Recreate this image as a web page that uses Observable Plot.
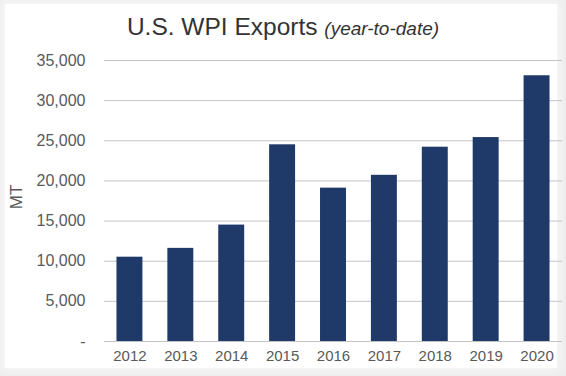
<!DOCTYPE html>
<html>
<head>
<meta charset="utf-8">
<script src="https://cdn.jsdelivr.net/npm/d3@7"></script>
<script src="https://cdn.jsdelivr.net/npm/@observablehq/plot@0.6"></script>
<style>
  html, body { margin: 0; padding: 0; background: #ececec; }
  #card {
    position: absolute; left: 5px; top: 4px; width: 552px; height: 364px;
    background: #ffffff;
    box-shadow: 0 0 8px 4px #f6f6f6;
  }
  #title {
    position: absolute; left: 0; top: 13px; width: 566px; text-align: center;
    font-family: "Liberation Sans", Arial, sans-serif; font-size: 24.5px; color: #333333;
    white-space: nowrap;
  }
  #title i { font-size: 19px; }
  #chart { position: absolute; left: 0; top: 50px; }
  #ylab {
    position: absolute; left: 17px; top: 197px;
    transform: translate(-50%, -50%) rotate(-90deg);
    font-family: "Liberation Sans", Arial, sans-serif; font-size: 17px; color: #595959;
  }
</style>
</head>
<body>
<div id="card"></div>
<div id="title">U.S. WPI Exports <i>(year-to-date)</i></div>
<div id="ylab">MT</div>
<div id="chart"></div>
<script>
const years = ["2012", "2013", "2014", "2015", "2016", "2017", "2018", "2019", "2020"];
const exportsMT = [10500, 11600, 14500, 24500, 19100, 20700, 24200, 25400, 33100];
const yTicks = [0, 5000, 10000, 15000, 20000, 25000, 30000, 35000];

const data = years.map((y, i) => ({year: y, value: exportsMT[i]}));
const fmt = d => d === 0 ? "-" : d3.format(",")(d);

const chart = Plot.plot({
  width: 566,
  height: 326,
  marginTop: 10,
  marginBottom: 35,
  marginLeft: 104,
  marginRight: 4,
  style: {background: "transparent", fontFamily: "'Liberation Sans', Arial, sans-serif", color: "#595959"},
  x: {domain: years, paddingInner: 0.49, paddingOuter: 0.245, round: false, label: null},
  y: {domain: [0, 35000], label: null},
  marks: [
    Plot.gridY(yTicks, {stroke: "#c4c4c4", strokeOpacity: 1, strokeWidth: 1}),
    Plot.axisY(yTicks, {tickSize: 0, tickPadding: 19, tickFormat: fmt, label: null, fill: "#595959", fontSize: 16}),
    Plot.axisX({tickSize: 0, tickPadding: 9, label: null, fill: "#595959", fontSize: 15}),
    Plot.barY(data, {x: "year", y: "value", fill: "#1f3a68"}),
    Plot.ruleY([0], {stroke: "#c4c4c4"})
  ]
});
document.getElementById("chart").appendChild(chart);
</script>
</body>
</html>
